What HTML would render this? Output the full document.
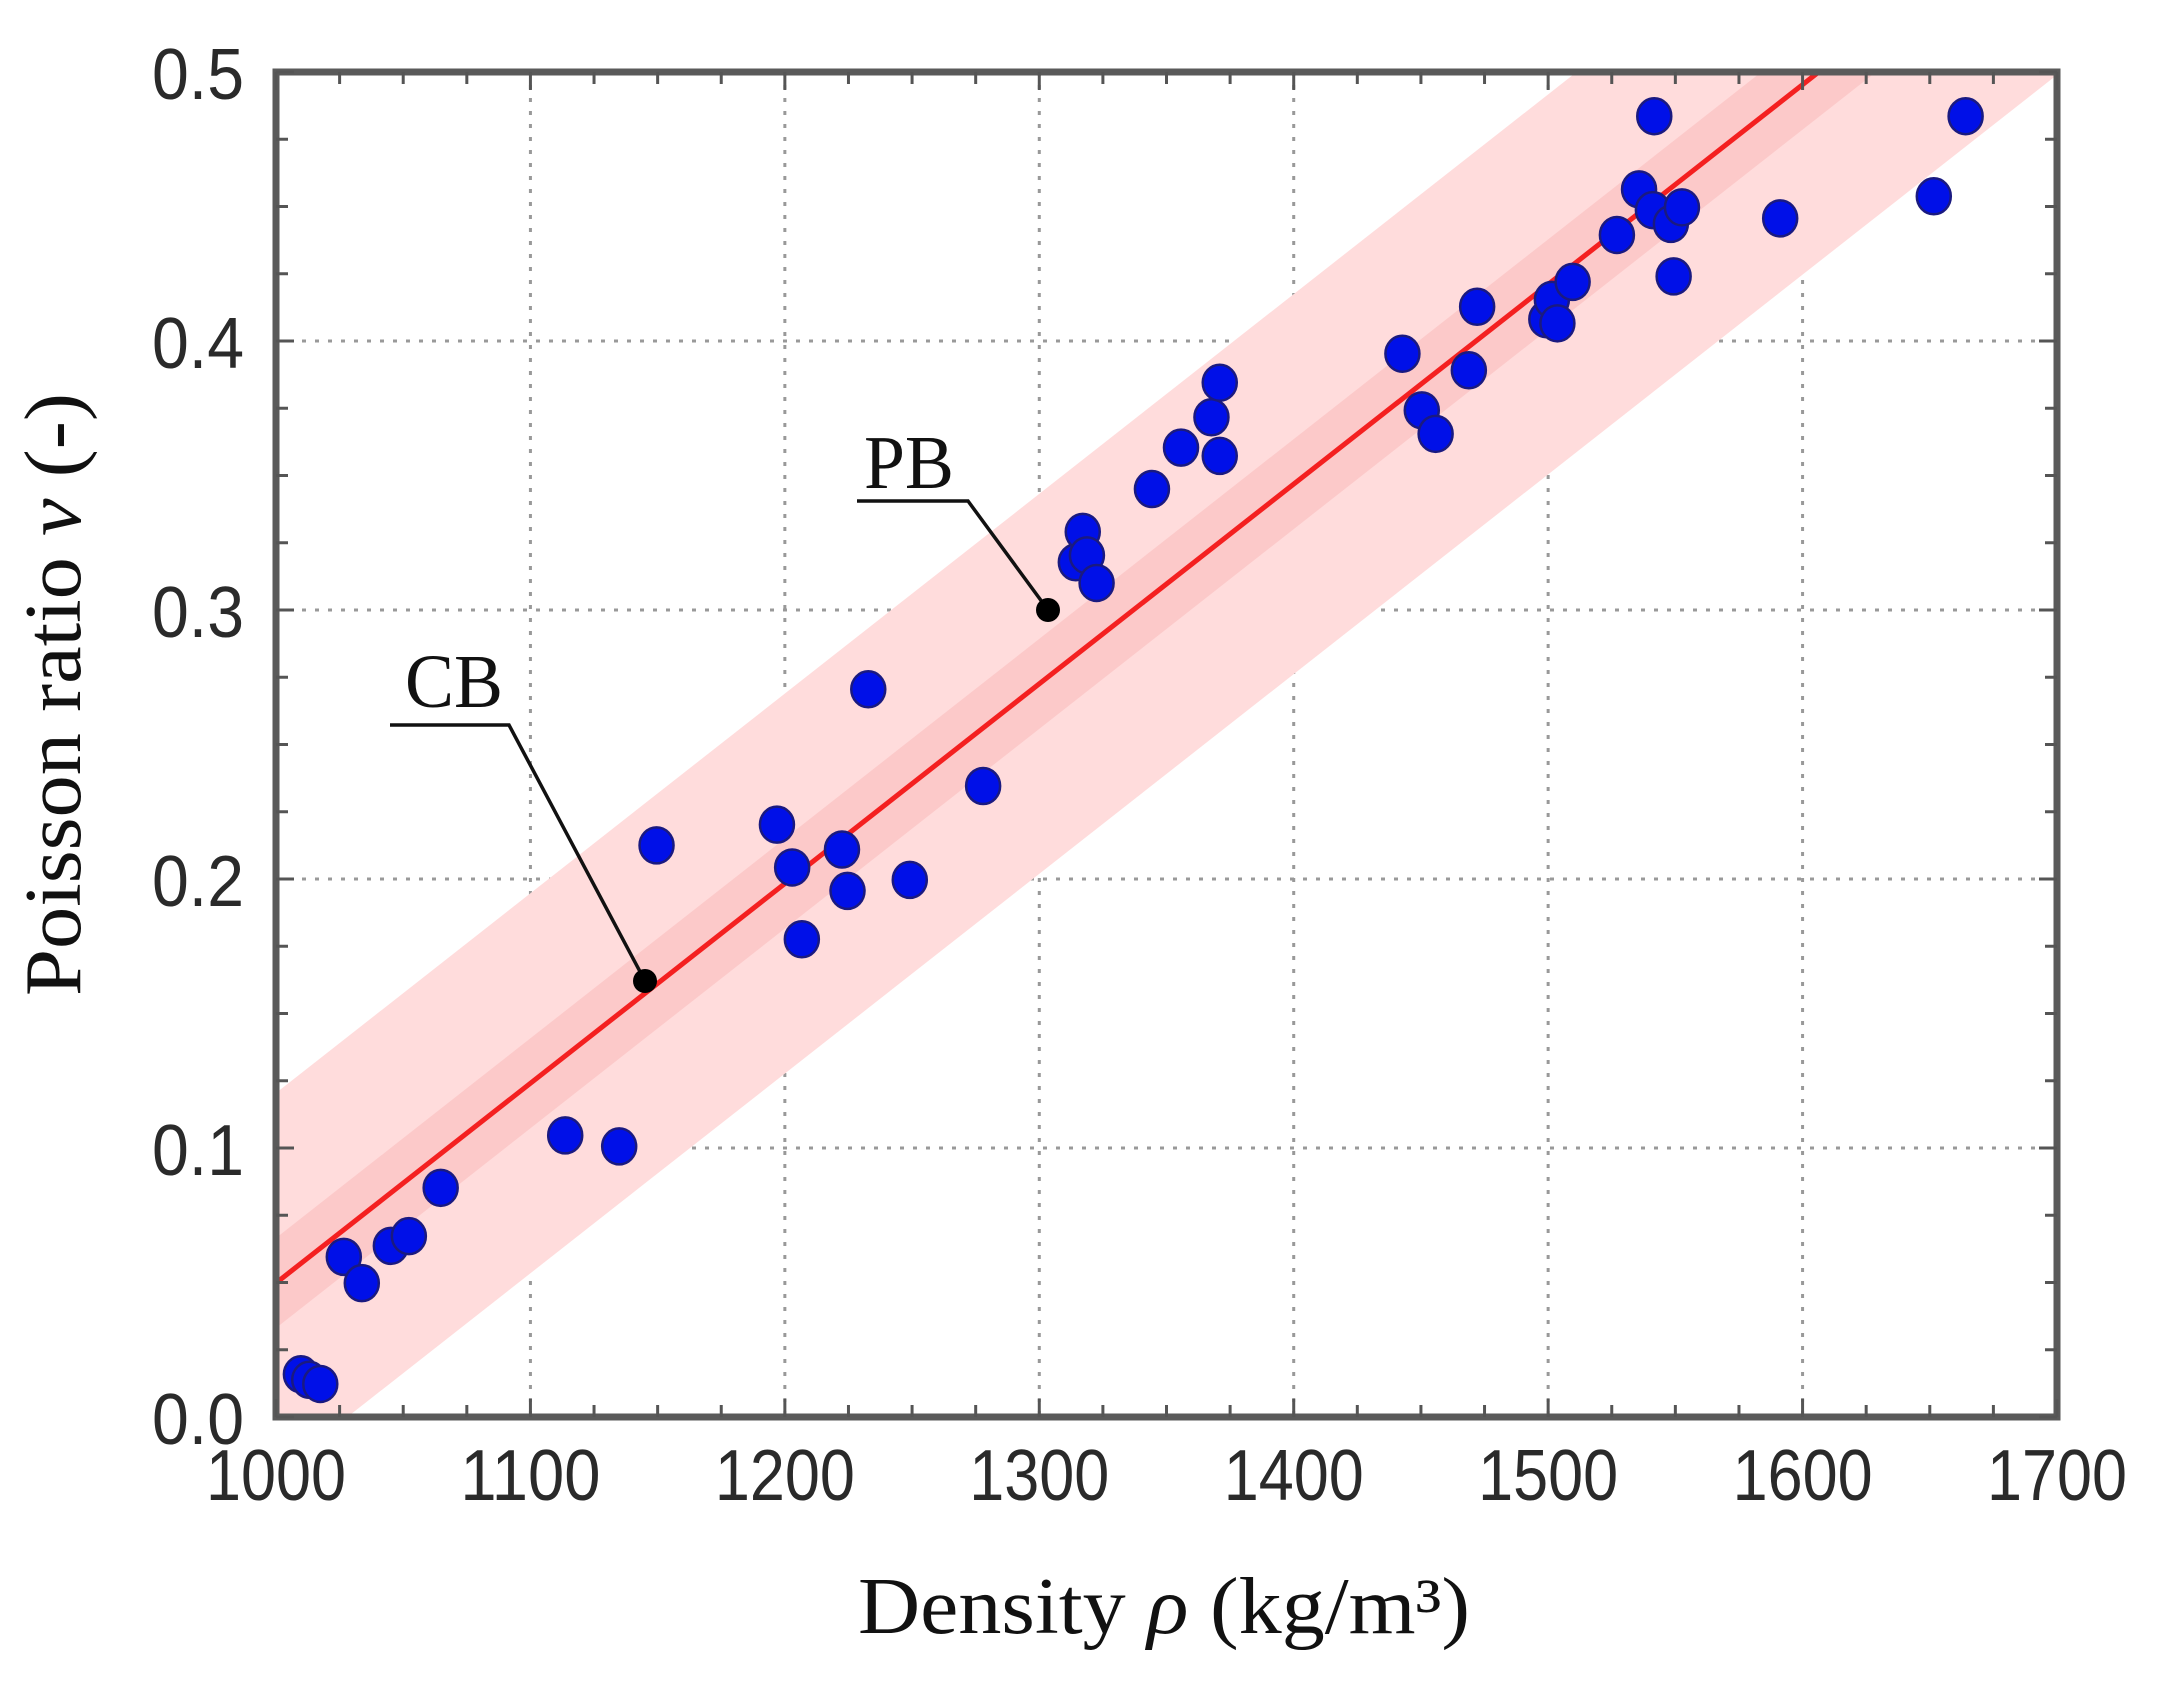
<!DOCTYPE html>
<html><head><meta charset="utf-8"><style>
html,body{margin:0;padding:0;background:#fff;}
svg{display:block;}
</style></head><body>
<svg id="s" width="2169" height="1684" xmlns="http://www.w3.org/2000/svg">
<defs><clipPath id="c"><rect x="276" y="72" width="1781" height="1345"/></clipPath></defs>
<rect width="2169" height="1684" fill="#fff"/>
<g id="grid"></g>
<g clip-path="url(#c)">
 <polygon id="outer" fill="#ffdcdc"/>
 <polygon id="inner" fill="#fbc4c4" opacity="0.8"/>
 <line id="fit" stroke="#f42020" stroke-width="5"/>
</g>
<g id="pts"></g>
<rect x="276" y="72" width="1781" height="1345" fill="none" stroke="#5a5a5a" stroke-width="7"/>
<g id="ticks"></g>
<g id="labels" font-family="Liberation Sans, sans-serif" font-size="72" fill="#2a2a2a"></g>
<g font-family="Liberation Serif, serif" fill="#111">
 <text x="405" y="707" font-size="76" textLength="98" lengthAdjust="spacingAndGlyphs">CB</text>
 <text x="864" y="488" font-size="76" textLength="90" lengthAdjust="spacingAndGlyphs">PB</text>
 <text x="858" y="1633" font-size="80" textLength="612" lengthAdjust="spacingAndGlyphs">Density <tspan font-style="italic">ρ</tspan> (kg/m³)</text>
 <text transform="translate(80,996) rotate(-90)" font-size="80" textLength="603" lengthAdjust="spacingAndGlyphs">Poisson ratio <tspan font-style="italic">ν</tspan> (-)</text>
</g>
<g stroke="#111" stroke-width="3.5" fill="none">
 <polyline points="390,725 509,725 645,981"/>
 <polyline points="857,501 968,501 1048,610"/>
</g>
<circle cx="645" cy="981" r="12" fill="#000"/>
<circle cx="1048" cy="610" r="12" fill="#000"/>
<script>
var NS="http://www.w3.org/2000/svg";
function el(p,t,a){var e=document.createElementNS(NS,t);for(var k in a)e.setAttribute(k,a[k]);p.appendChild(e);return e;}
var L=276,R=2057,T=72,B=1417;
var X=function(v){return L+(v-1000)/700*(R-L)}, Y=function(v){return B-v/0.5*(B-T)};
var g=document.getElementById('grid'),tk=document.getElementById('ticks'),lb=document.getElementById('labels');
for(var i=1;i<7;i++){var x=X(1000+i*100);el(g,'line',{x1:x,x2:x,y1:T,y2:B,stroke:'#999','stroke-width':3,'stroke-dasharray':'4 9'});}
for(var j=1;j<5;j++){var y=Y(j*0.1);el(g,'line',{x1:L,x2:R,y1:y,y2:y,stroke:'#999','stroke-width':3,'stroke-dasharray':'4 9'});}
for(var v=1000;v<=1700;v+=25){var x=X(v),len=(v%100==0)?18:12;
 el(tk,'line',{x1:x,x2:x,y1:B,y2:B-len,stroke:'#555','stroke-width':3});
 el(tk,'line',{x1:x,x2:x,y1:T,y2:T+len,stroke:'#555','stroke-width':3});}
for(var k=0;k<=20;k++){var y=Y(k*0.025),len=(k%4==0)?18:12;
 el(tk,'line',{x1:L,x2:L+len,y1:y,y2:y,stroke:'#555','stroke-width':3});
 el(tk,'line',{x1:R,x2:R-len,y1:y,y2:y,stroke:'#555','stroke-width':3});}
for(var v=1000;v<=1700;v+=100){var t=el(lb,'text',{x:X(v),y:1500,'text-anchor':'middle',textLength:140,lengthAdjust:'spacingAndGlyphs'});t.textContent=v;}
for(var k=0;k<=5;k++){var t=el(lb,'text',{x:244,y:Y(k*0.1)+27,'text-anchor':'end',textLength:92,lengthAdjust:'spacingAndGlyphs'});t.textContent=(k/10).toFixed(1);}
var s=0.785,y0=1283;function ly(x,o){return y0-s*(x-L)+o;}
function band(o){return L+','+ly(L,-o)+' '+R+','+ly(R,-o)+' '+R+','+ly(R,o)+' '+L+','+ly(L,o);}
document.getElementById('outer').setAttribute('points',band(190));
document.getElementById('inner').setAttribute('points',band(45));
var f=document.getElementById('fit');f.setAttribute('x1',L);f.setAttribute('y1',ly(L,0));f.setAttribute('x2',R);f.setAttribute('y2',ly(R,0));
var P=[[218,993],[224,997],[232,1000],[249,908],[262,927],[283,900],[296,893],[319,858],[409,820],[448,828],[475,610],[562,595],[573,626],[580,678],[609,613],[613,643],[628,497],[658,635],[711,567],[778,405],[783,383],[786,400],[793,420],[833,352],[854,322],[876,300],[882,275],[882,328],[1014,254],[1028,295],[1038,312],[1062,266],[1068,220],[1118,229],[1122,215],[1126,232],[1137,202],[1169,168],[1185,135],[1196,82],[1195,150],[1208,160],[1210,198],[1216,148],[1287,156],[1398,140],[1421,82]];
var pg=document.getElementById('pts');
P.forEach(function(p){el(pg,'ellipse',{cx:L+(p[0]-200)*1.3838,cy:T+(p[1]-50)*1.381,rx:17,ry:18,fill:'#0010e8',stroke:'#1a1a80','stroke-width':2.5});});
</script>
</svg>
</body></html>
